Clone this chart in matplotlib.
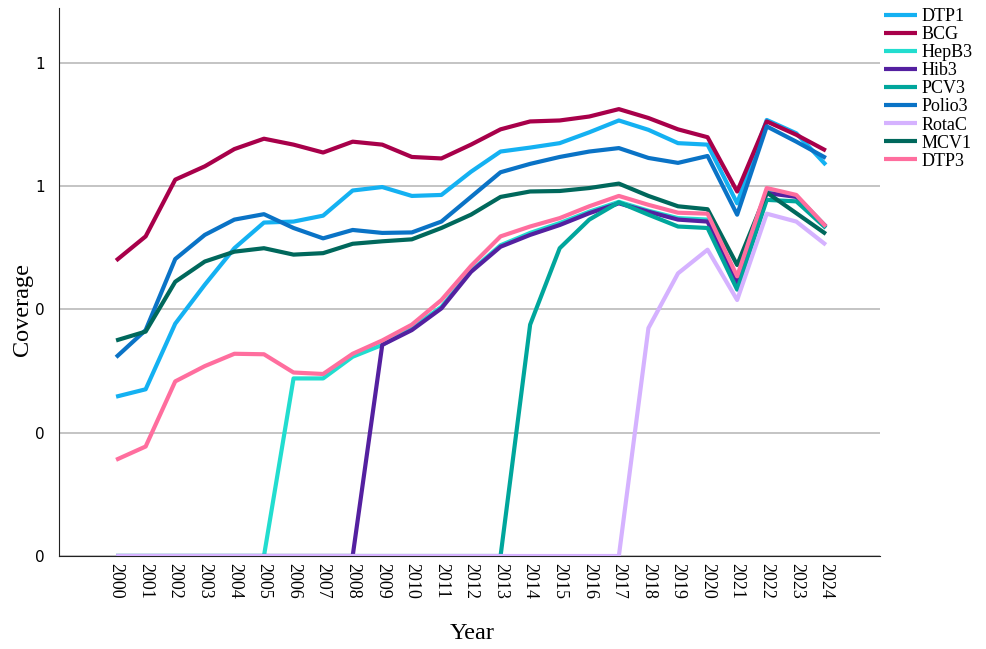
import matplotlib
matplotlib.use("Agg")
import matplotlib.pyplot as plt
from matplotlib.ticker import FuncFormatter

# -------- data --------
years = list(range(2000, 2025))

dtp1 = [0.323, 0.338, 0.471, 0.550, 0.624, 0.676, 0.678, 0.690, 0.741, 0.748,
        0.730, 0.732, 0.779, 0.820, 0.828, 0.837, 0.859, 0.883, 0.864, 0.837,
        0.834, 0.715, 0.884, 0.857, 0.793]
bcg = [0.599, 0.648, 0.763, 0.790, 0.825, 0.846, 0.834, 0.818, 0.840, 0.834,
       0.809, 0.806, 0.834, 0.865, 0.881, 0.883, 0.891, 0.906, 0.888, 0.865,
       0.849, 0.739, 0.881, 0.854, 0.822]
hepb3 = [0, 0, 0, 0, 0, 0, 0.360, 0.360, 0.404, 0.428,
         0.462, 0.505, 0.578, 0.630, 0.655, 0.675, 0.698, 0.718, 0.700, 0.685,
         0.682, 0.550, 0.740, 0.730, 0.668]
hib3 = [0, 0, 0, 0, 0, 0, 0, 0, 0, 0.428,
        0.458, 0.502, 0.576, 0.627, 0.651, 0.671, 0.695, 0.715, 0.698, 0.682,
        0.678, 0.553, 0.736, 0.728, 0.668]
pcv3 = [0, 0, 0, 0, 0, 0, 0, 0, 0, 0,
        0, 0, 0, 0, 0.469, 0.624, 0.682, 0.717, 0.692, 0.668,
        0.665, 0.540, 0.722, 0.719, 0.665]
polio3 = [0.403, 0.458, 0.602, 0.651, 0.682, 0.693, 0.665, 0.644, 0.661, 0.655,
          0.656, 0.678, 0.728, 0.778, 0.795, 0.809, 0.820, 0.827, 0.807, 0.797,
          0.811, 0.692, 0.871, 0.840, 0.807]
rotac = [0, 0, 0, 0, 0, 0, 0, 0, 0, 0,
         0, 0, 0, 0, 0, 0, 0, 0, 0.462, 0.573,
         0.621, 0.519, 0.694, 0.678, 0.631]
mcv1 = [0.437, 0.455, 0.556, 0.597, 0.617, 0.624, 0.611, 0.614, 0.633, 0.638,
        0.642, 0.665, 0.692, 0.728, 0.739, 0.740, 0.746, 0.755, 0.730, 0.709,
        0.703, 0.590, 0.737, 0.695, 0.653]
dtp3 = [0.195, 0.222, 0.354, 0.385, 0.410, 0.409, 0.372, 0.369, 0.410, 0.437,
        0.469, 0.519, 0.588, 0.648, 0.668, 0.685, 0.709, 0.730, 0.712, 0.696,
        0.694, 0.567, 0.746, 0.732, 0.668]

series = [
    ("DTP1", dtp1, "#14B1F2"),
    ("BCG", bcg, "#A8004A"),
    ("HepB3", hepb3, "#22DDCF"),
    ("Hib3", hib3, "#5420A0"),
    ("PCV3", pcv3, "#00A69C"),
    ("Polio3", polio3, "#0A73C6"),
    ("RotaC", rotac, "#D5B2FF"),
    ("MCV1", mcv1, "#00685C"),
    ("DTP3", dtp3, "#FF6E9E"),
]

y_ticks = [0, 0.25, 0.5, 0.75, 1.0]

# -------- figure --------
fig = plt.figure(figsize=(9.86, 6.49), dpi=100)
ax = fig.add_axes([59 / 986, 1 - 556 / 649, (880 - 59) / 986, (556 - 8) / 649])

for name, vals, col in series:
    ax.plot(years, vals, color=col, lw=3.0, label=name, solid_capstyle="butt", zorder=3)

ax.set_xlim(1998.07, 2025.83)
ax.set_ylim(0, 1.111)
ax.set_yticks(y_ticks)
ax.yaxis.set_major_formatter(FuncFormatter(lambda v, p: f"{v:.0f}"))
ax.set_xticks(years)
ax.set_xticklabels([str(y) for y in years], rotation=270, family="Liberation Serif",
                   fontsize=13)
ax.tick_params(axis="x", length=0, pad=5)
ax.tick_params(axis="y", length=0, pad=10, labelsize=11)
for lbl in ax.get_yticklabels():
    lbl.set_family("DejaVu Sans")

ax.grid(axis="y", color="#B4B4B4", lw=1.1, zorder=1)
ax.spines["top"].set_visible(False)
ax.spines["right"].set_visible(False)
ax.spines["left"].set_color("#222222")
ax.spines["bottom"].set_color("#222222")

ax.set_ylabel("Coverage", family="Liberation Serif", fontsize=17.5)
ax.set_xlabel("Year", family="Liberation Serif", fontsize=17.5)
ax.yaxis.set_label_coords(-0.032, 0.45)
ax.xaxis.set_label_coords(0.503, -0.122)

fig.legend(loc="upper left", bbox_to_anchor=(884 / 986, 1 - 8 / 649), frameon=False,
           prop={"family": "Liberation Serif", "size": 13},
           handlelength=1.8, handletextpad=0.3, labelspacing=0.06,
           borderpad=0, borderaxespad=0)

fig.savefig("out.png", dpi=100)
